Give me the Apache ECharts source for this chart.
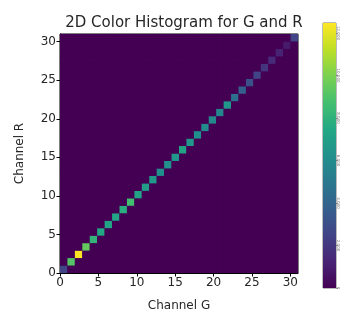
<!DOCTYPE html>
<html>
<head>
<meta charset="utf-8">
<script src="https://cdn.jsdelivr.net/npm/echarts@6/dist/echarts.min.js"></script>
<style>html,body{margin:0;padding:0;background:#fff}#c{width:358px;height:327px}</style>
</head>
<body>
<div id="c"></div>
<script>
// Number of bins per channel and the axis range they cover
const binCount = 32;
const axisMax = 31;
// Diagonal counts (bin i of G with bin i of R); all other cells are zero
const diagonalCounts = [2500, 9100, 12470, 9500, 8100, 7500, 7300, 7400, 7800, 8700,
  7200, 6900, 6600, 6200, 6300, 6500, 7300, 6600, 6200, 6000,
  5800, 5700, 6500, 4600, 3800, 3100, 2500, 1900, 1500, 1200, 900, 2500];
const colorbarMax = 12470;
const colorbarTicks = [0, 2000, 4000, 6000, 8000, 10000, 12000];
const axisTicks = [0, 5, 10, 15, 20, 25, 30];
const viridis = ['#440154','#482475','#414487','#355f8d','#2a788e','#21918c','#22a884','#44bf70','#7ad151','#bddf26','#fde725'];

const binWidth = axisMax / binCount;
const cells = [];
for (let g = 0; g < binCount; g++) {
  for (let r = 0; r < binCount; r++) {
    cells.push([g, r, g === r ? diagonalCounts[g] : 0]);
  }
}

const chart = echarts.init(document.getElementById('c'), null, {renderer: 'canvas'});
const txt = '#262626';
const font = 'DejaVu Sans';
const axisCommon = {
  type: 'value', min: 0, max: axisMax,
  axisLine: {show: true, lineStyle: {color: '#000', width: 1}},
  axisTick: {show: true, length: 3.5, lineStyle: {color: '#000'}, customValues: axisTicks},
  splitLine: {show: false},
  axisLabel: {color: txt, fontFamily: font, fontSize: 12, margin: 4, customValues: axisTicks},
  nameTextStyle: {color: txt, fontFamily: font, fontSize: 12},
  nameLocation: 'middle'
};

chart.setOption({
  animation: false,
  title: {text: '2D Color Histogram for G and R', left: 179, top: 11, textAlign: 'center',
    textStyle: {color: txt, fontFamily: font, fontSize: 15, fontWeight: 'normal'}},
  grid: [
    {left: 60, top: 34, width: 238, height: 239, show: true, borderColor: '#000', borderWidth: 1, backgroundColor: '#440154'},
    {left: 323, top: 23, width: 13, height: 265, show: true, borderColor: '#555', borderWidth: 0.8}
  ],
  xAxis: [
    Object.assign({}, axisCommon, {gridIndex: 0, name: 'Channel G', nameGap: 27}),
    {type: 'category', gridIndex: 1, data: ['c'], show: false, boundaryGap: true}
  ],
  yAxis: [
    Object.assign({}, axisCommon, {gridIndex: 0, name: 'Channel R', nameGap: 34}),
    {type: 'value', gridIndex: 1, min: 0, max: colorbarMax, position: 'right',
      splitLine: {show: false},
      axisLine: {show: false},
      axisTick: {show: true, length: 2, lineStyle: {color: '#555', width: 0.6}, customValues: colorbarTicks},
      axisLabel: {color: '#777', fontFamily: font, fontSize: 4, margin: 2, rotate: -90,
        customValues: colorbarTicks, verticalAlign: 'middle', align: 'center'}}
  ],
  visualMap: {type: 'continuous', show: false, min: 0, max: colorbarMax, dimension: 2,
    seriesIndex: 0, inRange: {color: viridis}},
  series: [
    {type: 'custom', xAxisIndex: 0, yAxisIndex: 0, data: cells,
      clip: true,
      encode: {x: 0, y: 1},
      renderItem: function (params, api) {
        const g = api.value(0), r = api.value(1);
        const p0 = api.coord([g * binWidth, r * binWidth]);
        const p1 = api.coord([(g + 1) * binWidth, (r + 1) * binWidth]);
        return {type: 'rect',
          shape: {x: p0[0], y: p1[1], width: p1[0] - p0[0], height: p0[1] - p1[1]},
          style: {fill: api.visual('color'), stroke: null}};
      }},
    {type: 'bar', xAxisIndex: 1, yAxisIndex: 1, data: [colorbarMax], barWidth: '100%',
      silent: true,
      itemStyle: {color: new echarts.graphic.LinearGradient(0, 1, 0, 0,
        viridis.map((c, i) => ({offset: i / (viridis.length - 1), color: c})))}}
  ]
});
</script>
</body>
</html>
